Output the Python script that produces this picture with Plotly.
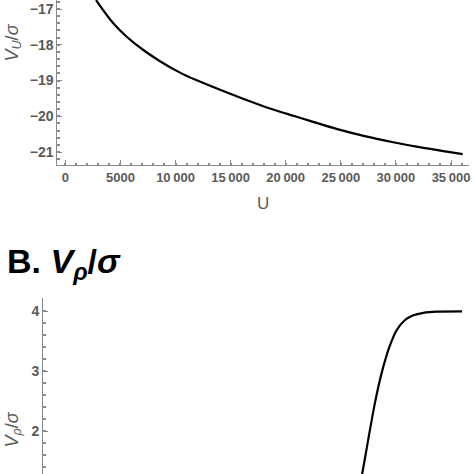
import plotly.graph_objects as go

# Panel A: V_U/sigma vs U
u_vals = [2786, 4356, 5572, 7078, 8593, 10408, 11770, 14038, 16307,
          18575, 20844, 22205, 24682, 27169, 29646, 32123, 34610, 36062]
vu_vals = [-16.75, -17.40, -17.775, -18.147, -18.46, -18.78, -18.975,
           -19.26, -19.53, -19.785, -20.0, -20.13, -20.36, -20.555, -20.72,
           -20.865, -20.99, -21.06]

# Panel B: V_rho/sigma (its x axis lies below the visible crop)
rho_x = [0.74, 0.762, 0.792, 0.808, 0.827, 0.844, 0.864, 0.884, 0.908, 0.940, 1.0]
vrho_vals = [0.45, 1.295, 2.46, 2.96, 3.405, 3.68, 3.85, 3.93, 3.97, 3.99, 3.995]

xticks_a = [0, 5000, 10000, 15000, 20000, 25000, 30000, 35000]
xticklabels_a = ["0", "5000", "10\u2009000", "15\u2009000", "20\u2009000", "25\u2009000",
                 "30\u2009000", "35\u2009000"]
yticks_a = [-17, -18, -19, -20, -21]
yticklabels_a = ["\u221217", "\u221218", "\u221219", "\u221220", "\u221221"]
yticks_b = [2, 3, 4]

W = H = 474
gray = "#5a5a5a"
axcol = "#8a8a8a"
tickfont = dict(family="Arial", size=13, color=gray, weight="bold")
ytickfont = dict(family="Arial", size=14, color=gray, weight="bold")

fig = go.Figure()
fig.add_trace(go.Scatter(x=u_vals, y=vu_vals, mode="lines",
                         line=dict(color="black", width=2.2, shape="spline", smoothing=1.0),
                         xaxis="x", yaxis="y", showlegend=False, hoverinfo="skip"))
fig.add_trace(go.Scatter(x=rho_x, y=vrho_vals, mode="lines",
                         line=dict(color="black", width=2.2, shape="spline", smoothing=0.8),
                         xaxis="x2", yaxis="y2", showlegend=False, hoverinfo="skip"))


def px_x(p):
    return p / W


def px_y(p):
    return 1 - p / H


# panel A pixel calibration: U=0 at x=65.3, 11.02 px per 1000; V=-17 at y=9, 35.75 px per unit
k = 11.02 / 1000
x0 = (57.3 - 65.3) / k
x1 = (469 - 65.3) / k
ky = 35.75
y_top = -17 + 9 / ky
y_bot = -17 - (165 - 9) / ky

minor_style = dict(ticks="inside", ticklen=2.5, tickcolor=axcol, tickwidth=1.5)

fig.update_layout(
    width=W, height=H,
    margin=dict(l=0, r=0, t=0, b=0),
    paper_bgcolor="white", plot_bgcolor="white",
    xaxis=dict(domain=[px_x(57.3), px_x(469)], range=[x0, x1], anchor="y",
               showgrid=False, zeroline=False, showline=True, linecolor=axcol, linewidth=1,
               ticks="inside", ticklen=5, tickcolor=axcol, tickwidth=1,
               tickvals=xticks_a, ticktext=xticklabels_a, tickfont=tickfont,
               minor=dict(dtick=1000, tick0=0, **minor_style)),
    yaxis=dict(domain=[px_y(165), 1], range=[y_bot, y_top], anchor="x",
               showgrid=False, zeroline=False, showline=True, linecolor=axcol, linewidth=1,
               ticks="inside", ticklen=5, tickcolor=axcol, tickwidth=1,
               tickvals=yticks_a, ticktext=yticklabels_a, tickfont=ytickfont,
               minor=dict(dtick=0.2, tick0=0, **minor_style)),
    xaxis2=dict(domain=[px_x(43), px_x(469)], range=[0, 426 / 419], anchor="y2",
                visible=False),
    yaxis2=dict(domain=[0, px_y(298)], range=[2 - (474 - 431) / 60, 4 + 13 / 60], anchor="x2",
                showgrid=False, zeroline=False, showline=True, linecolor=axcol, linewidth=1,
                ticks="inside", ticklen=5, tickcolor=axcol, tickwidth=1,
                tickvals=yticks_b, tickfont=ytickfont,
                minor=dict(dtick=0.2, tick0=0, **minor_style)),
)

fig.add_annotation(x=px_x(263), y=px_y(203), xref="paper", yref="paper", text="U", showarrow=False,
                   font=dict(family="Arial", size=17, color=gray), xanchor="center", yanchor="middle")
fig.add_annotation(x=px_x(12.5), y=px_y(43), xref="paper", yref="paper",
                   text="<i>V</i><sub><i>U</i></sub>/<i>σ</i>", showarrow=False, textangle=-90,
                   font=dict(family="Arial", size=18, color=gray), xanchor="center", yanchor="middle")
fig.add_annotation(x=px_x(12.5), y=px_y(430), xref="paper", yref="paper",
                   text="<i>V</i><sub><i>ρ</i></sub>/<i>σ</i>", showarrow=False, textangle=-90,
                   font=dict(family="Arial", size=18, color=gray), xanchor="center", yanchor="middle")
fig.add_annotation(x=px_x(5), y=px_y(287), xref="paper", yref="paper",
                   text="<b>B. <i>V</i><sub><i>ρ</i></sub>/<i>σ</i></b>", showarrow=False,
                   font=dict(family="Arial", size=34, color="black"), xanchor="left", yanchor="bottom")

fig.write_html("out.html", config={"displayModeBar": False},
               post_script="document.body.style.margin='0';document.body.style.overflow='hidden';")
